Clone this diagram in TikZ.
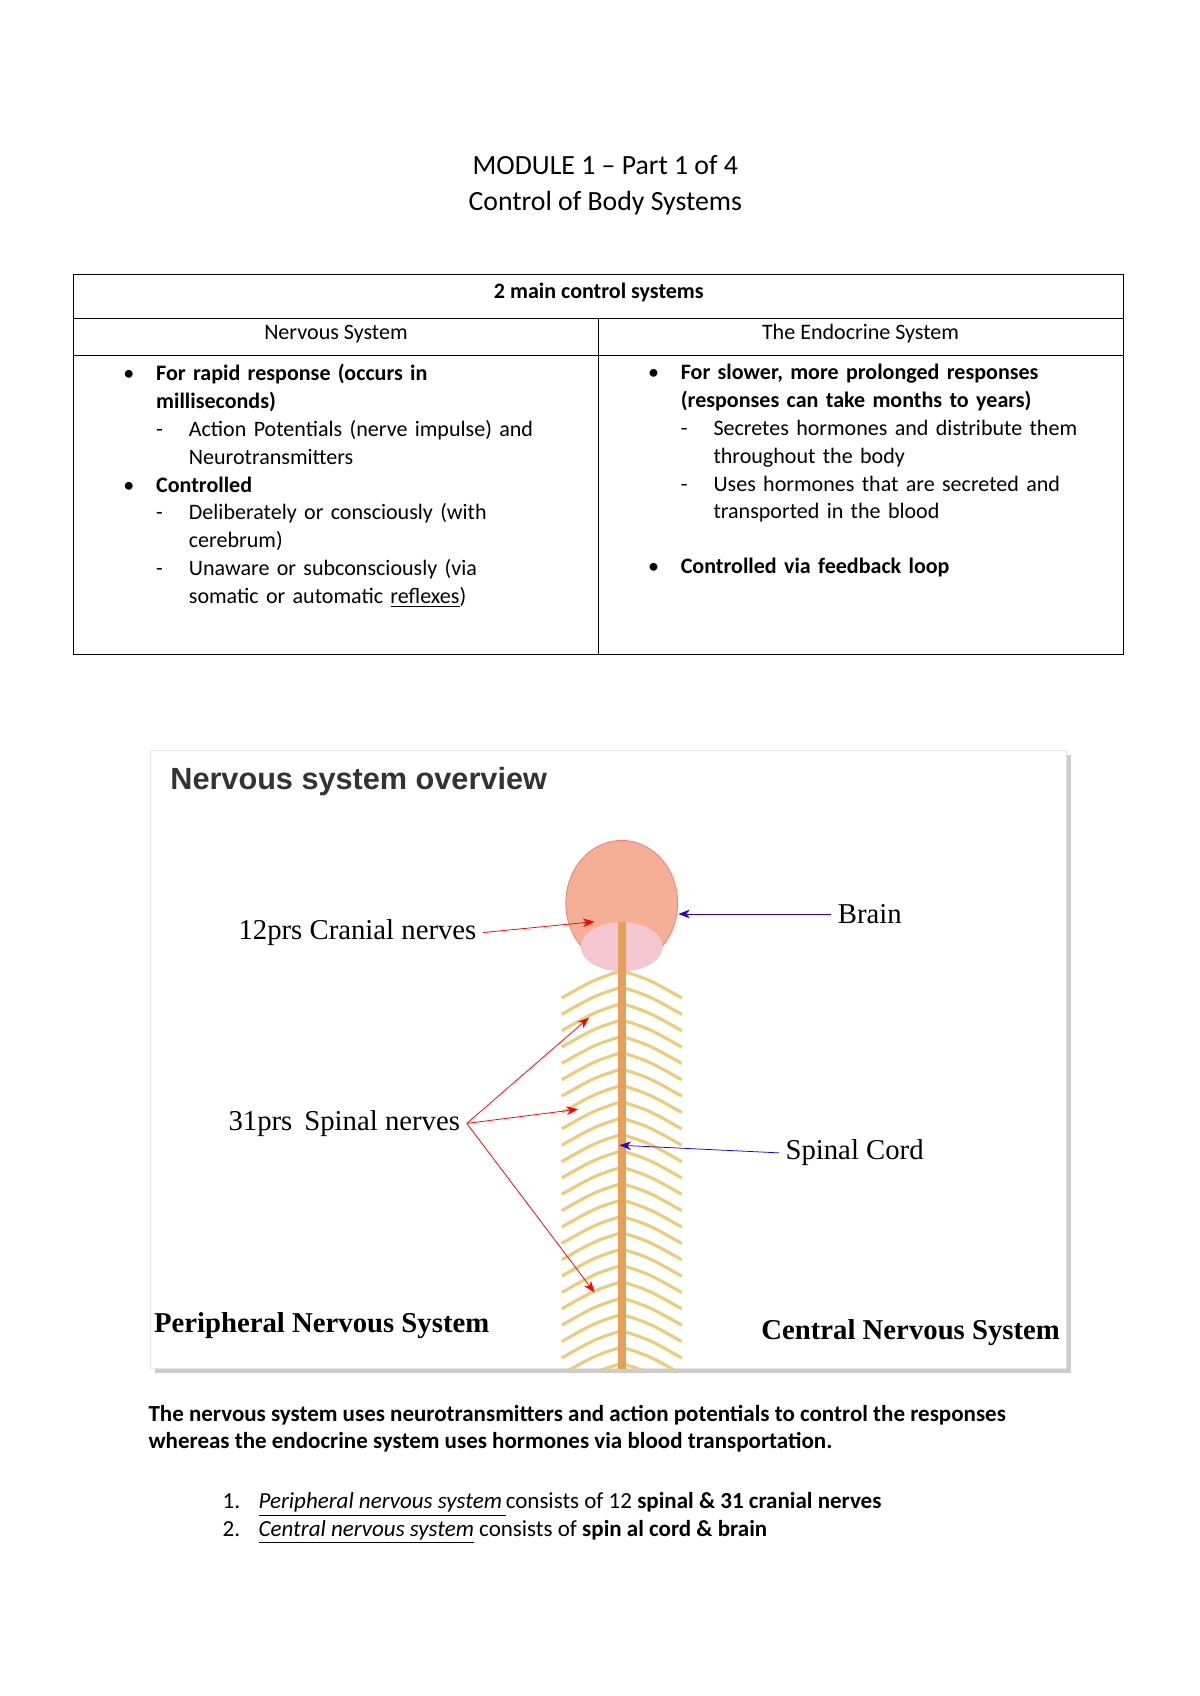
\documentclass[tikz,border=0pt]{standalone}
\usepackage{fontspec}
\setmainfont{Carlito}
\newfontfamily\figserif{Liberation Serif}
\newfontfamily\figsans{Liberation Sans}
\usetikzlibrary{arrows.meta, positioning, shapes.geometric}
\definecolor{nerve}{RGB}{235,205,120}
\definecolor{cord}{RGB}{230,160,90}
\definecolor{brainpink}{RGB}{245,175,150}
\tikzstyle{cell} = [anchor=north west, text width=8.6cm, align=left, font=\fontsize{11.5}{14.5}\selectfont]
\tikzstyle{head} = [font=\fontsize{11.5}{14}\selectfont]
\tikzstyle{label} = [font=\figserif\fontsize{15}{17}\selectfont]
\tikzstyle{redarrow} = [red, thin, -{Stealth[length=6pt]}]
\tikzstyle{bluearrow} = [blue!70!violet, thin, -{Stealth[length=6pt]}]
\newcommand{\bul}{\makebox[0.6cm][l]{\textbullet}}
\newcommand{\dsh}{\makebox[0.6cm][l]{-}}
\begin{document}
\begin{tikzpicture}[x=0.02cm, y=-0.02cm]
  \useasboundingbox (0,0) rectangle (1100,1555);

  % Heading
  \node (title) at (555,170) [align=center, font=\fontsize{14.5}{19}\selectfont] {MODULE 1 -- Part 1 of 4\\Control of Body Systems};

  % Table
  \draw (67,252) rectangle (1030,600);
  \draw (67,292) -- (1030,292);
  \draw (67,326) -- (1030,326);
  \draw (549,292) -- (549,600);
  \node (main) at (549,268) [head] {\textbf{2 main control systems}};
  \node (nervous) at (308,306) [head] {Nervous System};
  \node (endo) at (789,306) [head] {The Endocrine System};
  \node (left) at (107,328) [cell] {%
    \bul\textbf{For rapid response (occurs in}\\
    \hspace*{0.6cm}\textbf{milliseconds)}\\
    \hspace*{0.6cm}\dsh Action Potentials (nerve impulse) and\\
    \hspace*{1.2cm}Neurotransmitters\\
    \bul\textbf{Controlled}\\
    \hspace*{0.6cm}\dsh Deliberately or consciously (with\\
    \hspace*{1.2cm}cerebrum)\\
    \hspace*{0.6cm}\dsh Unaware or subconsciously (via\\
    \hspace*{1.2cm}somatic or automatic \underline{reflexes})};
  \node (right) at (588,328) [cell] {%
    \bul\textbf{For slower, more prolonged responses}\\
    \hspace*{0.6cm}\textbf{(responses can take months to years)}\\
    \hspace*{0.6cm}\dsh Secretes hormones and distribute them\\
    \hspace*{1.2cm}throughout the body\\
    \hspace*{0.6cm}\dsh Uses hormones that are secreted and\\
    \hspace*{1.2cm}transported in the blood\\[14pt]
    \bul\textbf{Controlled via feedback loop}};

  % Figure panel
  \fill[gray!40] (142,692) rectangle (982,1259);
  \draw[gray!20, fill=white] (138,688) rectangle (978,1255);
  \node (figtitle) at (150,717) [anchor=west, font=\figsans\bfseries\fontsize{16}{20}\selectfont, text=gray!40!black] {Nervous system overview};

  % Spine and nerves
  \begin{scope}
    \clip (138,688) rectangle (978,1255);
    \foreach \y in {890,905,...,1250} {
      \draw[nerve, line width=1.6pt] (570,\y) .. controls (545,\y+8) .. (515,\y+25);
      \draw[nerve, line width=1.6pt] (570,\y) .. controls (595,\y+8) .. (625,\y+25);
    }
    \draw[cord, line width=4pt] (570,860) -- (570,1255);
  \end{scope}
  \node (brain) at (570,828) [ellipse, minimum width=2.05cm, minimum height=2.3cm, fill=brainpink, draw=brainpink!70!red] {};
  \node (stem) at (570,868) [ellipse, minimum width=1.5cm, minimum height=0.9cm, fill=pink!60!purple!40] {};
  \draw[cord, line width=4pt] (570,845) -- (570,895);
  \coordinate (brainedge) at (622,838);
  \coordinate (cranial) at (545,845);
  \coordinate (spinal1) at (540,933);
  \coordinate (spinal2) at (530,1017);
  \coordinate (spinal3) at (545,1185);
  \coordinate (cordmid) at (568,1050);

  % Labels
  \node (brainlbl) at (762,838) [label, anchor=west] {Brain};
  \node (craniallbl) at (443,855) [label, anchor=east] {12prs Cranial nerves};
  \node (spinallbl) at (428,1030) [label, anchor=east] {31prs\,\ Spinal nerves};
  \node (cordlbl) at (714,1057) [label, anchor=west] {Spinal Cord};
  \node (pns) at (135,1215) [label, anchor=west, font=\figserif\bfseries\fontsize{15}{17}\selectfont] {Peripheral Nervous System};
  \node (cns) at (978,1222) [label, anchor=east, font=\figserif\bfseries\fontsize{15}{17}\selectfont] {Central Nervous System};

  % Arrows
  \draw[bluearrow] (brainlbl.west) -- (brainedge);
  \draw[redarrow] (craniallbl.east) -- (cranial);
  \draw[redarrow] (spinallbl.east) -- (spinal1);
  \draw[redarrow] (spinallbl.east) -- (spinal2);
  \draw[redarrow] (spinallbl.east) -- (spinal3);
  \draw[bluearrow] (cordlbl.west) -- (cordmid);

  % Text below
  \node (summary) at (130,1310) [anchor=west, align=left, font=\fontsize{12}{14.5}\selectfont] {\textbf{The nervous system uses neurotransmitters and action potentials to control the responses}\\
    \textbf{whereas the endocrine system uses hormones via blood transportation.}};
  \node (list) at (198,1392) [anchor=west, align=left, font=\fontsize{12}{14.5}\selectfont] {1.\hspace{0.5em} \underline{\textit{Peripheral nervous system\,}}consists of 12 \textbf{spinal \& 31 cranial nerves}\\
    2.\hspace{0.5em} \underline{\textit{Central nervous system}} consists of \textbf{spin al cord \& brain}};
\end{tikzpicture}
\end{document}
